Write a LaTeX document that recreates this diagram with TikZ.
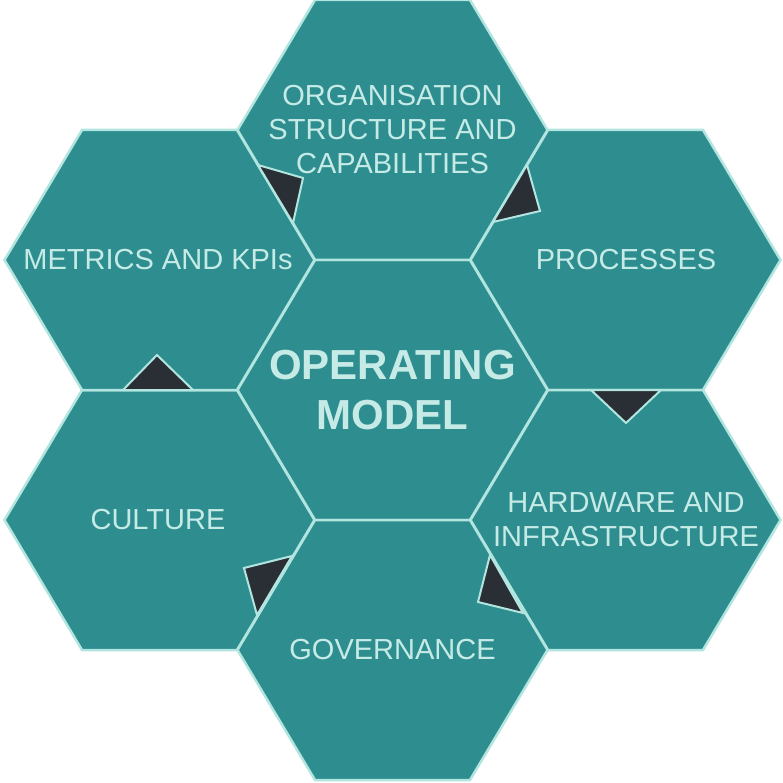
\documentclass[tikz,border=0pt]{standalone}
\usepackage{fontspec}
\setmainfont{Liberation Sans}
\definecolor{hexfill}{HTML}{2E8E8F}
\definecolor{hexline}{HTML}{B3E5E0}
\definecolor{tridark}{HTML}{2A2F36}
\definecolor{txt}{HTML}{C6EBE7}
\tikzset{
  hexshape/.style={fill=hexfill, draw=hexline, line width=2.5pt, line join=miter},
  triarrow/.style={fill=tridark, draw=hexline, line width=2pt, line join=miter},
  lbl/.style={text=txt, align=center, font=\fontsize{29}{34}\selectfont, inner sep=0pt},
  biglbl/.style={text=txt, align=center, font=\fontsize{42}{50}\selectfont\bfseries, inner sep=0pt}
}
\begin{document}
\begin{tikzpicture}[x=1pt,y=-1pt]
\useasboundingbox (0,0) rectangle (783,783);
\foreach \cx/\cy in {392.5/390, 392.5/130, 625.5/260, 625.5/520, 392.5/650, 159.5/520, 159.5/260}{
  \draw[hexshape, shift={(\cx,\cy)}] (-155,0) -- (-77.5,-130) -- (77.5,-130) -- (155,0) -- (77.5,130) -- (-77.5,130) -- cycle;
}
% cycle arrows
\draw[triarrow] (258,165) -- (303,178) -- (293,223) -- cycle;
\draw[triarrow] (527,165) -- (540,211) -- (493,222) -- cycle;
\draw[triarrow] (591,390) -- (661,390) -- (626,423) -- cycle;
\draw[triarrow] (490,555) -- (523,613) -- (478,602) -- cycle;
\draw[triarrow] (292,556) -- (244,568) -- (257,615) -- cycle;
\draw[triarrow] (123,390) -- (193,390) -- (157,355) -- cycle;
% labels
\node[biglbl] (om) at (392.5,390) {OPERATING\\MODEL};
\node[lbl] (org) at (392.5,130) {ORGANISATION\\STRUCTURE AND\\CAPABILITIES};
\node[lbl] (proc) at (626,260) {PROCESSES};
\node[lbl] (hw) at (626,520) {HARDWARE AND\\INFRASTRUCTURE};
\node[lbl] (gov) at (392.5,650) {GOVERNANCE};
\node[lbl] (cult) at (158,520) {CULTURE};
\node[lbl] (kpi) at (158,260) {METRICS AND KPIs};
\end{tikzpicture}
\end{document}
